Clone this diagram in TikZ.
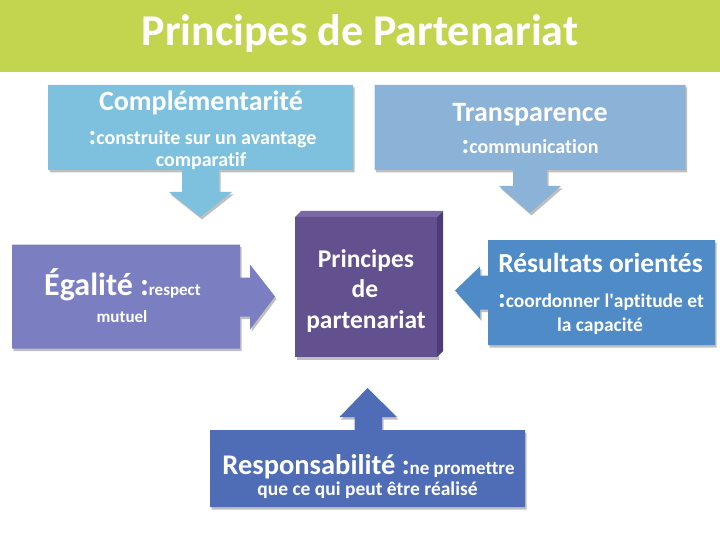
\documentclass[tikz,border=0pt]{standalone}
\usepackage{fontspec}
\setmainfont{Carlito}[Ligatures={NoCommon}]
\font\apfnt="Carlito/B" at 19.5pt
\usetikzlibrary{calc,shadows}
\pgfdeclarelayer{background}
\pgfdeclarelayer{canvas}
\pgfsetlayers{canvas,background,main}
\definecolor{titlegreen}{HTML}{C3D44F}
\definecolor{ccomp}{HTML}{7DC1DE}
\definecolor{ctrans}{HTML}{8BB2D7}
\definecolor{cegal}{HTML}{7B7FC1}
\definecolor{ccenter}{HTML}{63508F}
\definecolor{ccentertop}{HTML}{7A69A6}
\definecolor{ccenterside}{HTML}{4D3C79}
\definecolor{cres}{HTML}{4F8BC7}
\definecolor{cresp}{HTML}{4F6DB7}
\newcommand\fsz[1]{\fontsize{#1}{#1}\selectfont}
\tikzset{
  box/.style={rectangle, draw=none, inner sep=0pt, outer sep=0pt},
  callout/.style={drop shadow={shadow xshift=1.5pt, shadow yshift=-2.5pt, opacity=0.25, fill=black}},
  txt/.style={anchor=base, text=white, font=\bfseries, inner sep=0pt},
}
\begin{document}
\begin{tikzpicture}[x=1pt,y=-1pt]
\useasboundingbox (0,0) rectangle (720,540);
\begin{pgfonlayer}{canvas}
\fill[white] (0,0) rectangle (720,540);
\fill[titlegreen] (0,0) rectangle (720,72);
\end{pgfonlayer}
\node[txt, font=\bfseries\fsz{44}] (title) at (360,46) {Principes de Partenariat};

% box nodes (shapes)
\node[box, minimum width=305, minimum height=85] (comp) at (200.5,127.5) {};
\node[box, minimum width=311, minimum height=85] (trans) at (530,127.5) {};
\node[box, minimum width=228, minimum height=104] (egal) at (126,296.5) {};
\node[box, minimum width=142, minimum height=140] (center) at (366,287) {};
\node[box, minimum width=227, minimum height=105] (res) at (601.5,292.5) {};
\node[box, minimum width=315, minimum height=77] (resp) at (367.5,468.5) {};

\begin{pgfonlayer}{background}
% Complementarite with down arrow
\fill[ccomp, callout] (comp.north west) -- (comp.north east) -- (comp.south east)
  -- ($(comp.south)+(18.5,0)$) -- ++(0,22) -- ++(13,0) -- ($(comp.south)+(0,47)$)
  -- ($(comp.south)+(-31.5,22)$) -- ++(13,0) -- ($(comp.south)+(-18.5,0)$)
  -- (comp.south west) -- cycle;
% Transparence with down arrow
\fill[ctrans, callout] (trans.north west) -- (trans.north east) -- (trans.south east)
  -- ($(trans.south)+(17,0)$) -- ++(0,16) -- ++(14,0) -- ($(trans.south)+(0,43)$)
  -- ($(trans.south)+(-31,16)$) -- ++(14,0) -- ($(trans.south)+(-17,0)$)
  -- (trans.south west) -- cycle;
% Egalite with right arrow
\fill[cegal, callout] (egal.north west) -- (egal.north east)
  -- ($(egal.east)+(0,-19)$) -- ++(10,0) -- ++(0,-13) -- ($(egal.east)+(35,0)$)
  -- ($(egal.east)+(10,33)$) -- ++(0,-13) -- ($(egal.east)+(0,20)$)
  -- (egal.south east) -- (egal.south west) -- cycle;
% Resultats with left arrow
\fill[cres, callout] (res.north west) -- (res.north east) -- (res.south east) -- (res.south west)
  -- ($(res.west)+(0,17)$) -- ++(-8,0) -- ++(0,9) -- ($(res.west)+(-33,-2)$)
  -- ($(res.west)+(-8,-26)$) -- ++(0,9) -- ($(res.west)+(0,-17)$)
  -- cycle;
% Responsabilite with up arrow
\fill[cresp, callout] (resp.south west) -- (resp.south east) -- (resp.north east)
  -- ($(resp.north)+(14.5,0)$) -- ++(0,-13) -- ++(15,0) -- ($(resp.north)+(0,-42)$)
  -- ($(resp.north)+(-28,-13)$) -- ++(15,0) -- ($(resp.north)+(-13,0)$)
  -- (resp.north west) -- cycle;
% Center 3D box
\fill[ccenter, callout] (center.north west) rectangle (center.south east);
\fill[ccentertop] (center.north west) -- ++(6,-6) -- ($(center.north east)+(6,-6)$) -- (center.north east) -- cycle;
\fill[ccenterside] (center.north east) -- ++(6,-6) -- ($(center.south east)+(6,-6)$) -- (center.south east) -- cycle;
\end{pgfonlayer}

% texts
\node[txt, font=\bfseries\fsz{28}] (comp1) at (201,111) {Complémentarité};
\node[txt] (comp2) at (202.5,145) {{\fsz{28}:}{\fsz{20}construite sur un avantage}};
\node[txt, font=\bfseries\fsz{20}] (comp3) at (201,167) {comparatif};

\node[txt, font=\bfseries\fsz{28}] (trans1) at (530,122) {Transparence};
\node[txt] (trans2) at (530,154) {{\fsz{28}:}{\fsz{20}communication}};

\node[txt] (egal1) at (122.5,295) {{\fsz{32}Égalité :}{\fsz{17}respect}};
\node[txt, font=\bfseries\fsz{17}] (egal2) at (122,322) {mutuel};

\node[txt, font=\bfseries\fsz{25.5}] (cen1) at (366,267) {Principes};
\node[txt, font=\bfseries\fsz{25.5}] (cen2) at (365,297) {de};
\node[txt, font=\bfseries\fsz{25.5}] (cen3) at (366,328) {partenariat};

\node[txt, font=\bfseries\fsz{27.5}] (res1) at (600.5,272) {Résultats orientés};
\node[txt] (res2) at (601,307) {{\fsz{27.5}:}{\fsz{19.5}coordonner l{\apfnt '}aptitude et}};
\node[txt, font=\bfseries\fsz{19.5}] (res3) at (600,331) {la capacité};

\node[txt] (resp1) at (368.5,474) {{\fsz{28.5}Responsabilité :}{\fsz{19}ne promettre}};
\node[txt, font=\bfseries\fsz{19.5}] (resp2) at (367.5,495) {que ce qui peut être réalisé};
\end{tikzpicture}
\end{document}
